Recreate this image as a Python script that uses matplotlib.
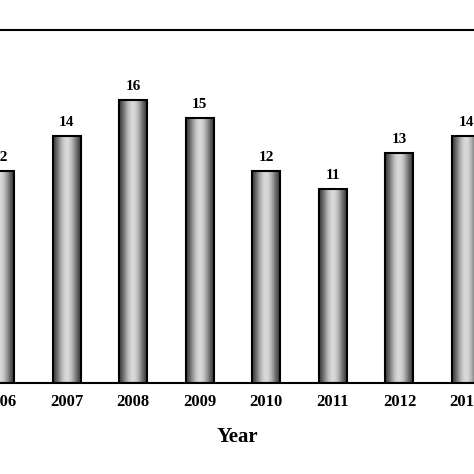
import numpy as np
import matplotlib.pyplot as plt

years = [2006, 2007, 2008, 2009, 2010, 2011, 2012, 2013]
counts = [12, 14, 16, 15, 12, 11, 13, 14]
tick_labels = ['2006', '2007', '2008', '2009', '2010', '2011', '2012', '2013']

plt.rcParams['font.family'] = ['Liberation Serif', 'DejaVu Serif']

fig = plt.figure(figsize=(4.74, 4.74), dpi=100)
ax = fig.add_axes([0, 0.192, 1, 0.745])

width = 0.42
# cylinder-like grey shading across each bar
xs = np.linspace(0, 1, 64)
shade = 0.25 + 0.6 * np.sin(np.pi * xs) ** 1.5
grad = np.tile(shade, (2, 1))
for x, v in zip(years, counts):
    ax.imshow(grad, cmap='gray', vmin=0, vmax=1, aspect='auto',
              extent=[x - width / 2, x + width / 2, 0, v], zorder=2)
bars = ax.bar(years, counts, width=width, facecolor='none',
              edgecolor='black', linewidth=1.5, zorder=3)
for x, v in zip(years, counts):
    ax.text(x, v + 0.4, str(v), ha='center', va='bottom',
            fontsize=11, fontweight='bold')

ax.set_xlim(2006.045, 2013.12)
ax.set_ylim(0, 20)
ax.set_xticks(years)
ax.set_xticklabels(tick_labels, fontsize=12, fontweight='bold')
ax.set_yticks([])
ax.tick_params(axis='x', length=0, pad=8)
for s in ['left', 'right']:
    ax.spines[s].set_visible(False)
ax.spines['top'].set_linewidth(1.5)
ax.spines['bottom'].set_linewidth(1.5)
ax.set_xlabel('Year', fontsize=15, fontweight='bold', labelpad=12)

fig.savefig('out.png', dpi=100)
